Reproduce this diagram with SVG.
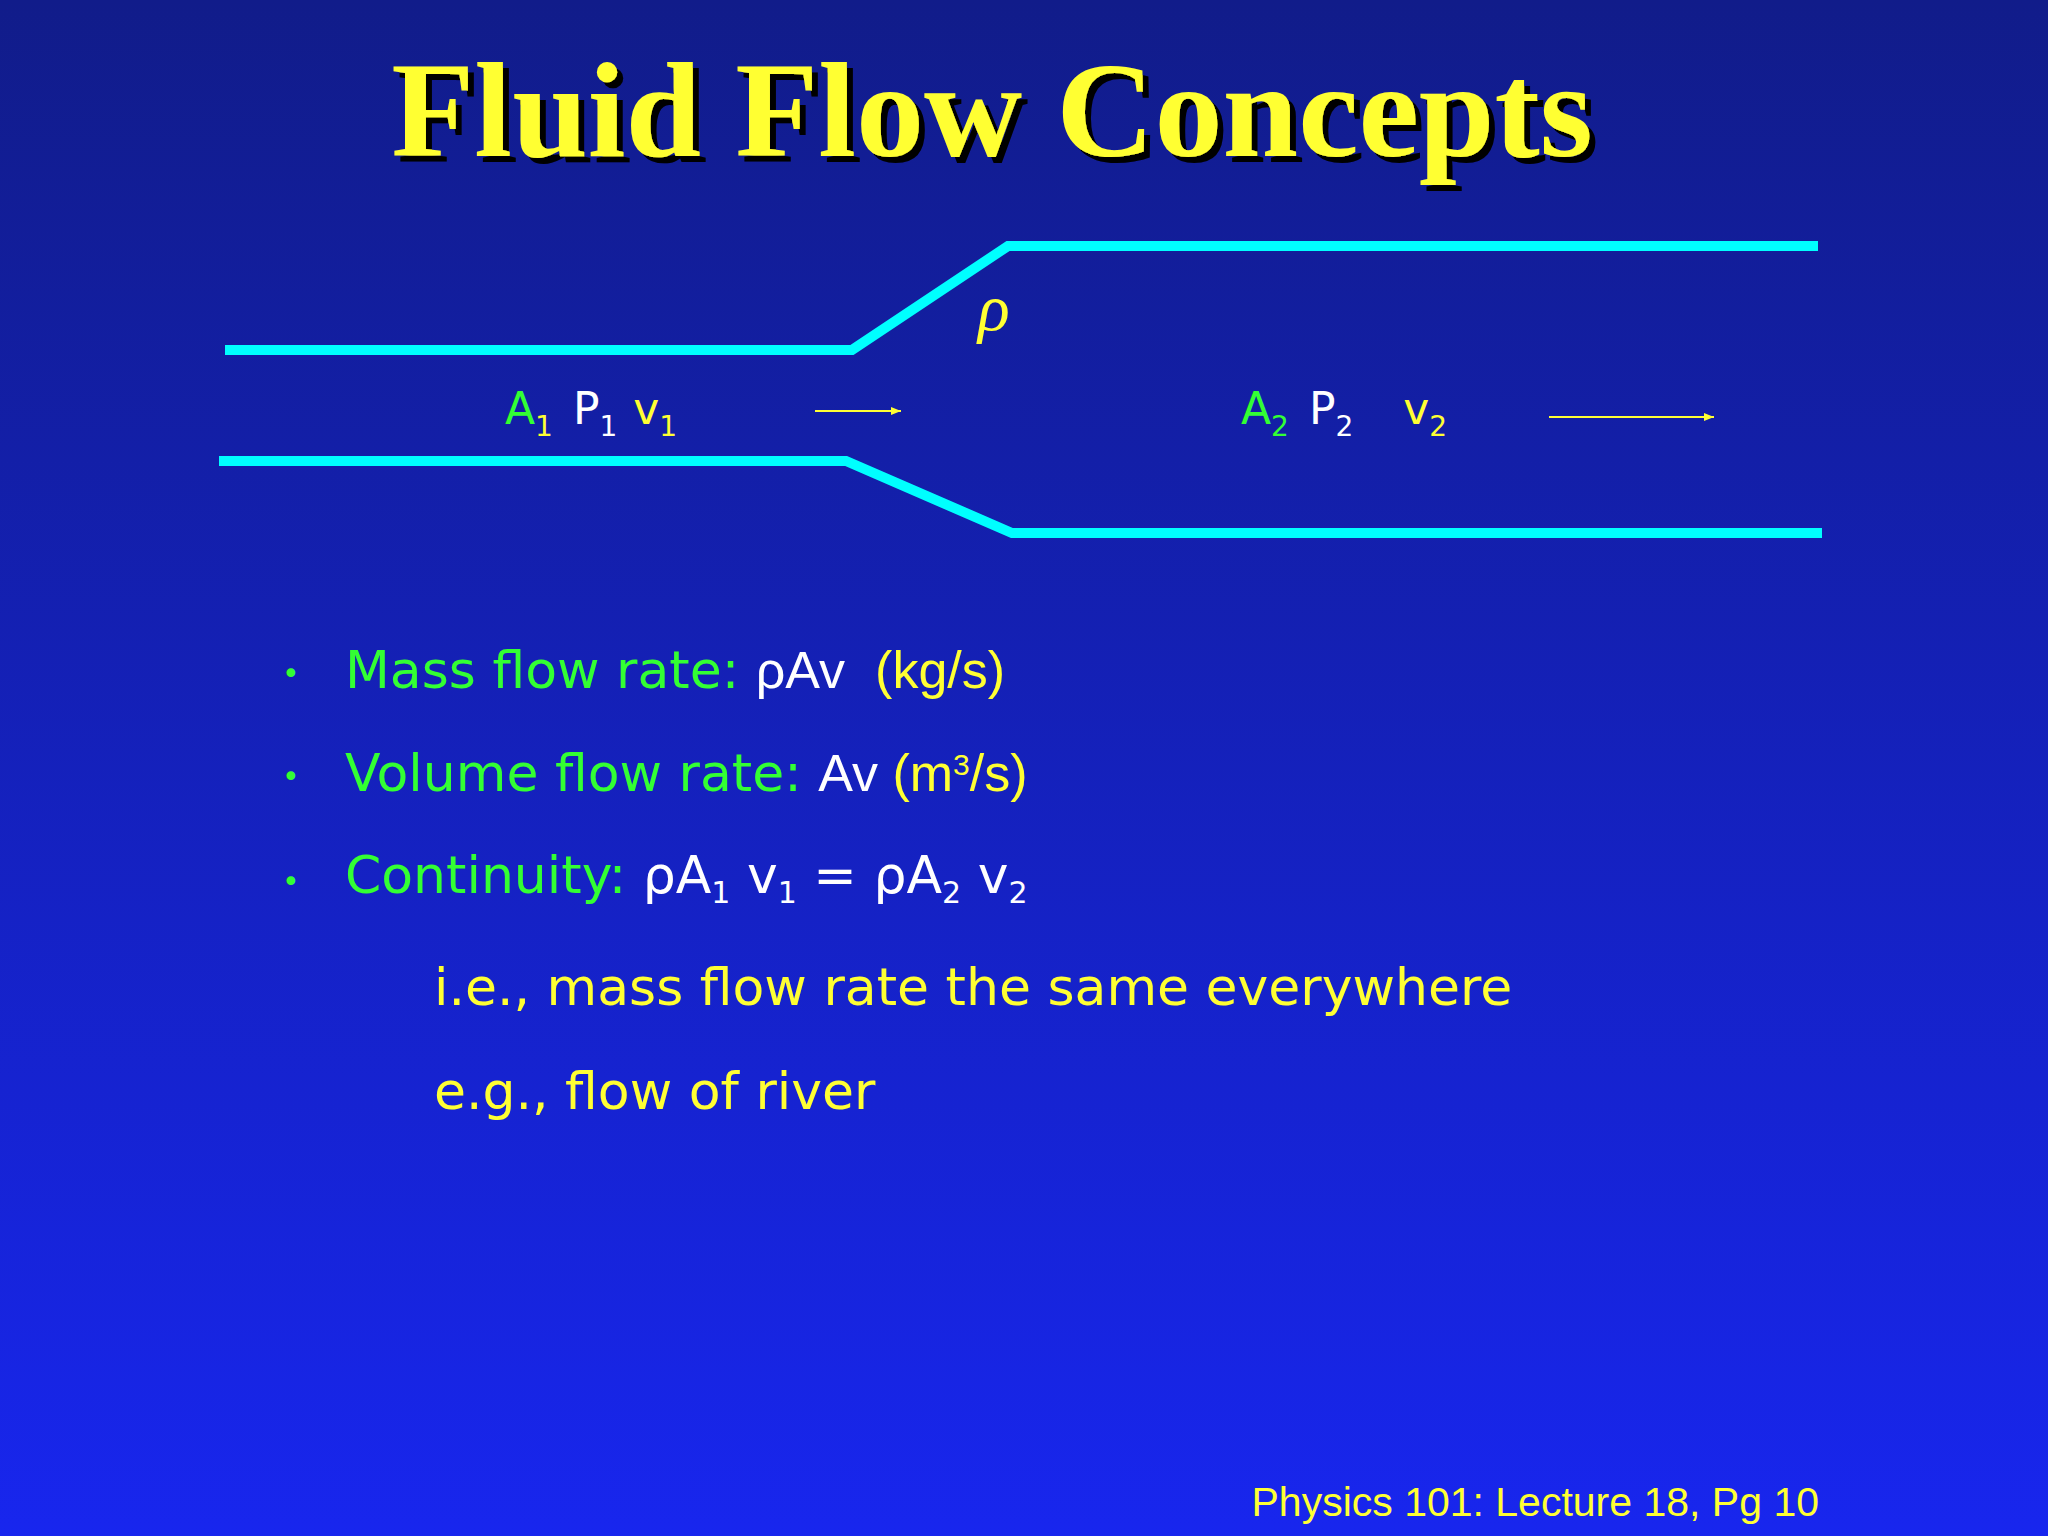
<svg xmlns="http://www.w3.org/2000/svg" width="2048" height="1536" viewBox="0 0 2048 1536">
<defs>
<linearGradient id="bg" x1="0" y1="0" x2="0" y2="1"><stop offset="0" stop-color="#111c8a"/><stop offset="1" stop-color="#1826ee"/></linearGradient>
<filter id="sh" x="-5%" y="-20%" width="110%" height="140%"><feDropShadow dx="6" dy="6" stdDeviation="0" flood-color="#000"/></filter>
<marker id="ah" markerWidth="10" markerHeight="8" refX="10" refY="4" orient="auto" markerUnits="userSpaceOnUse"><path d="M0,0 L10,4 L0,8 z" fill="#ffff33"/></marker>
</defs>
<style>
.pipe{fill:none;stroke:#00ffff;stroke-width:10}
.t{font-family:"DejaVu Sans",sans-serif;font-size:52px}
.s{font-family:"DejaVu Sans",sans-serif;font-size:44px}
.g{fill:#33ff33}.y{fill:#ffff33}.w{fill:#ffffff}
.arr{stroke:#ffff33;stroke-width:2;marker-end:url(#ah)}
</style>
<rect width="2048" height="1536" fill="url(#bg)"/>
<g id="title">
<text x="992" y="156" font-family="Liberation Serif,serif" font-weight="bold" font-size="136" text-anchor="middle" fill="#ffff33" filter="url(#sh)">Fluid Flow Concepts</text>
</g>
<g id="pipe">
<polyline class="pipe" points="225,350 852,350 1008,246 1818,246"/>
<polyline class="pipe" points="219,461 846,461 1012,533 1822,533"/>
</g>
<text id="rho" x="978" y="330" font-family="Liberation Serif,serif" font-style="italic" font-size="66" fill="#ffff33">ρ</text>
<g id="labels" class="s">
<text x="505" y="424"><tspan class="g">A</tspan><tspan class="y" font-size="28" dy="12">1</tspan><tspan class="w" dx="20" dy="-12">P</tspan><tspan class="w" font-size="28" dy="12">1</tspan><tspan class="y" dx="16" dy="-12">v</tspan><tspan class="y" font-size="28" dy="12">1</tspan></text>
<text x="1241" y="424"><tspan class="g">A</tspan><tspan class="g" font-size="28" dy="12">2</tspan><tspan class="w" dx="20" dy="-12">P</tspan><tspan class="w" font-size="28" dy="12">2</tspan><tspan class="y" dx="50" dy="-12">v</tspan><tspan class="y" font-size="28" dy="12">2</tspan></text>
</g>
<g id="connectors">
<line class="arr" x1="815" y1="411" x2="901" y2="411"/>
<line class="arr" x1="1549" y1="417" x2="1714" y2="417"/>
</g>
<g id="bullets" class="t">
<text x="282" y="684" class="g" font-size="30">•</text>
<text x="282" y="787" class="g" font-size="30">•</text>
<text x="282" y="892" class="g" font-size="30">•</text>
<text x="345" y="688"><tspan class="g">Mass flow rate: </tspan><tspan class="w" font-family="Liberation Sans,sans-serif">ρAv</tspan><tspan class="y" font-family="Liberation Sans,sans-serif" dx="30">(kg/s)</tspan></text>
<text x="345" y="791"><tspan class="g">Volume flow rate: </tspan><tspan class="w" font-family="Liberation Sans,sans-serif">Av </tspan><tspan class="y" font-family="Liberation Sans,sans-serif">(m<tspan font-size="30" dy="-16">3</tspan><tspan dy="16">/s)</tspan></tspan></text>
<text x="345" y="893"><tspan class="g">Continuity: </tspan><tspan class="w">ρA<tspan font-size="30" dy="10">1</tspan><tspan dy="-10"> v</tspan><tspan font-size="30" dy="10">1</tspan><tspan dy="-10"> = ρA</tspan><tspan font-size="30" dy="10">2</tspan><tspan dy="-10"> v</tspan><tspan font-size="30" dy="10">2</tspan></tspan></text>
<text x="434" y="1005" class="y">i.e., mass flow rate the same everywhere</text>
<text x="434" y="1109" class="y">e.g., flow of river</text>
</g>
<text id="footer" x="1819" y="1516" text-anchor="end" font-family="Liberation Sans,sans-serif" font-size="41" fill="#ffff33">Physics 101: Lecture 18, Pg 10</text>
</svg>
